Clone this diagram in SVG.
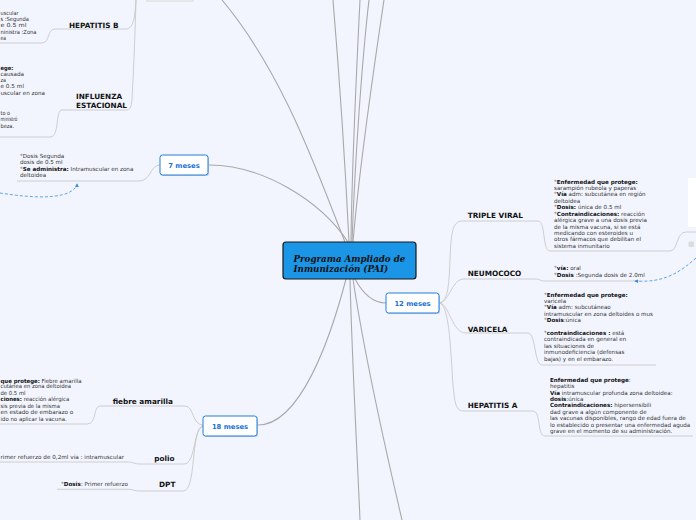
<svg xmlns="http://www.w3.org/2000/svg" width="696" height="520" viewBox="0 0 696 520">
<style>
.bg{fill:#f2f5fe}
.main{fill:none;stroke:#a9a9a9;stroke-width:1.1}
.sub{fill:none;stroke:#c4c4c4;stroke-width:0.8}
.dash{fill:none;stroke:#3b8de0;stroke-width:0.8;stroke-dasharray:3,2}
.month rect.box{fill:#fff;stroke:#1f7fe0;stroke-width:1}
.month rect.sh{fill:#c9cfdc}
.month text{font-family:"DejaVu Sans",Verdana,sans-serif;font-weight:bold;font-size:6.8px;fill:#1a72d8;text-anchor:middle}
.lbl{font-family:"DejaVu Sans",Verdana,sans-serif;font-weight:bold;font-size:7.3px;fill:#111}
.t{font-family:"DejaVu Sans",Verdana,sans-serif;font-size:5.6px;fill:#333}
.t tspan.b,.b{font-weight:bold;fill:#111}
.c{font-family:"DejaVu Serif","Liberation Serif",serif;font-weight:bold;font-style:italic;font-size:8.7px;fill:#111}
</style>
<defs>
<marker id="ah" viewBox="0 0 6 6" refX="5" refY="3" markerWidth="5" markerHeight="5" orient="auto">
<path d="M0,0 L6,3 L0,6 z" fill="#3b8de0"/>
</marker>
</defs>
<rect class="bg" x="0" y="0" width="696" height="520"/>

<g id="connectors">
<path class="main" d="M345,242 C320,180 285,75 222,0"/>
<path class="main" d="M349,242 C345,160 338,60 333,0"/>
<path class="main" d="M351,242 C352,160 357,60 360,0"/>
<path class="main" d="M352,242 C355,160 362,60 369,0"/>
<path class="main" d="M353,242 C360,160 375,60 384,0"/>
<path class="main" d="M348,242 C320,200 262,165 209,165"/>
<path class="main" d="M350,279 C352,360 357,450 360,520"/>
<path class="main" d="M353,279 C365,360 388,460 402,520"/>
<path class="main" d="M346,279 C330,340 300,425 258,425"/>
<path class="main" d="M355,279 C362,292 372,303 386,303"/>

<path class="sub" d="M136,0 C135,15 134,29 126,29 L55,29 C47,29 50,43 42,43 L0,43"/>
<path class="sub" d="M136,0 C135,40 133,80 132,100 C131,108 130,110 126,110 L62,110 C55,110 60,137 50,137 L0,137"/>
<path class="sub" d="M160,165 C150,165 151,181 139,181 L17,181"/>

<path class="sub" d="M440,303 C448,300 449,285 450,260 C451,235 452,221 462,221 L538,221 C546,221 542,251 550,251 L670,251 C678,251 676,232 686,232 L696,232"/>
<path class="sub" d="M440,303 C450,300 452,279 464,279 L536,279 C540,279 540,281 544,281 L640,281"/>
<path class="sub" d="M440,303 C450,306 452,333 466,333 L528,333 C536,333 534,365 542,365 L656,365"/>
<path class="sub" d="M440,303 C450,306 451,360 453,385 C455,405 456,411 464,411 L533,411 C541,411 537,436 545,436 L693,436"/>

<path class="sub" d="M203,425 C192,425 194,406 185,406 L100,406 C93,406 97,424 87,424 L0,424"/>
<path class="sub" d="M203,426 C193,428 196,464 184,464 L140,464 C134,464 133,462 128,462 L0,462"/>
<path class="sub" d="M203,426 C190,430 197,491 183,491 L140,491 C134,491 133,489.3 128,489.3 L57,489.3"/>

<path class="dash" d="M696,258 C680,272 665,283 635,281" marker-end="url(#ah)"/>
<path class="dash" d="M0,193 C20,196 50,200 68,193 C74,190 77,187 77,184" marker-end="url(#ah)"/>
</g>

<g id="partial-top">
<rect x="147" y="-20" width="46" height="21" fill="#f8f8f8" stroke="#cfcfcf" stroke-width="0.8"/>
</g>

<g id="note-right">
<rect x="688" y="178" width="10" height="49" fill="#fff"/>
<rect x="688.5" y="241.5" width="5.5" height="5.5" rx="1" fill="#dcdcdc"/>
</g>

<g id="central">
<rect x="283" y="242" width="133" height="37" rx="3" fill="#1b95e6" stroke="#1a1a1a" stroke-width="1.2"/>
<text class="c" x="293.5" y="261.8">Programa Ampliado de</text>
<text class="c" x="293.5" y="272.3">Inmunización (PAI)</text>
</g>

<g id="m7" class="month">
<rect class="sh" x="161" y="156" width="48" height="20" rx="2.5"/>
<rect class="box" x="160" y="155" width="48" height="20" rx="2.5"/>
<text x="184" y="167.5">7 meses</text>
</g>
<g id="m12" class="month">
<rect class="sh" x="387" y="294" width="53" height="20" rx="2.5"/>
<rect class="box" x="386" y="293" width="53" height="20" rx="2.5"/>
<text x="412.5" y="305.5">12 meses</text>
</g>
<g id="m18" class="month">
<rect class="sh" x="204" y="417" width="54" height="20" rx="2.5"/>
<rect class="box" x="203" y="416" width="54" height="20" rx="2.5"/>
<text x="230" y="428.5">18 meses</text>
</g>

<g id="hepb">
<text class="lbl" x="69" y="27.5">HEPATITIS B</text>
<text class="t" x="0.5" y="15" textLength="18" lengthAdjust="spacingAndGlyphs">uscular</text>
<text class="t" x="0.5" y="21" textLength="28.5" lengthAdjust="spacingAndGlyphs">s :Segunda</text>
<text class="t" x="0.5" y="27" textLength="26" lengthAdjust="spacingAndGlyphs">e 0.5 ml</text>
<text class="t" x="0.5" y="34" textLength="36" lengthAdjust="spacingAndGlyphs">ninistra :Zona</text>
<text class="t" x="0.5" y="40" textLength="5.5" lengthAdjust="spacingAndGlyphs">ea</text>
</g>

<g id="influenza">
<text class="lbl" x="76" y="99">INFLUENZA</text>
<text class="lbl" x="76" y="107.5">ESTACIONAL</text>
<text class="t b" x="0.5" y="69.5" textLength="12.8" lengthAdjust="spacingAndGlyphs">ege:</text>
<text class="t" x="0.5" y="75.5" textLength="23.5" lengthAdjust="spacingAndGlyphs">causada</text>
<text class="t" x="0.5" y="81.8" textLength="5.5" lengthAdjust="spacingAndGlyphs">za</text>
<text class="t" x="0.5" y="88.3" textLength="23.5" lengthAdjust="spacingAndGlyphs">e 0.5 ml</text>
<text class="t" x="0.5" y="95" textLength="44.5" lengthAdjust="spacingAndGlyphs">uscular en zona</text>
<text class="t" x="0.5" y="115" textLength="9.5" lengthAdjust="spacingAndGlyphs">to o</text>
<text class="t" x="0.5" y="121" textLength="16.8" lengthAdjust="spacingAndGlyphs">ministró</text>
<text class="t" x="0.5" y="128" textLength="13.5" lengthAdjust="spacingAndGlyphs">beza.</text>
</g>

<g id="m7-info">
<text class="t" x="20" y="158">°Dosis Segunda</text>
<text class="t" x="20" y="164">dosis de 0.5 ml</text>
<text class="t" x="20" y="170.6">°<tspan class="b">Se administra:</tspan> Intramuscular en zona</text>
<text class="t" x="20" y="176.6">deltoidea</text>
</g>

<g id="triple">
<text class="lbl" x="467.7" y="218.3">TRIPLE VIRAL</text>
<text class="t" x="554" y="183.5">°<tspan class="b">Enfermedad que protege:</tspan></text>
<text class="t" x="554" y="189.9">sarampión rubeola y paperas</text>
<text class="t" x="554" y="196.4">°<tspan class="b">Vía</tspan> adm: subcutánea en región</text>
<text class="t" x="554" y="202.8">deltoidea</text>
<text class="t" x="554" y="209.2">°<tspan class="b">Dosis:</tspan> única de 0.5 ml</text>
<text class="t" x="554" y="215.7">°<tspan class="b">Contraindicaciones:</tspan> reacción</text>
<text class="t" x="554" y="222.1">alérgica grave a una dosis previa</text>
<text class="t" x="554" y="228.5">de la misma vacuna, si se está</text>
<text class="t" x="554" y="235">medicando con esteroides u</text>
<text class="t" x="554" y="241.4">otros fármacos que debilitan el</text>
<text class="t" x="554" y="247.8">sistema inmunitario</text>
</g>

<g id="neumococo">
<text class="lbl" x="467.7" y="276">NEUMOCOCO</text>
<text class="t" x="554" y="270.2">°<tspan class="b">vía:</tspan> oral</text>
<text class="t" x="554" y="276.8">°<tspan class="b">Dosis</tspan> :Segunda dosis de 2.0ml</text>
</g>

<g id="varicela">
<text class="lbl" x="467.7" y="332">VARICELA</text>
<text class="t" x="544" y="296.8">°<tspan class="b">Enfermedad que protege:</tspan></text>
<text class="t" x="544" y="303">varicela</text>
<text class="t" x="544" y="309.3">°<tspan class="b">Vía</tspan> adm: subcutáneao</text>
<text class="t" x="544" y="315.7">intramuscular en zona deltoides o mus</text>
<text class="t" x="544" y="322">°<tspan class="b">Dosis</tspan>:única</text>
<text class="t" x="544" y="335">°<tspan class="b">contraindicaciones :</tspan> está</text>
<text class="t" x="544" y="341.4">contraindicada en general en</text>
<text class="t" x="544" y="347.8">las situaciones de</text>
<text class="t" x="544" y="354.2">inmunodeficiencia (defensas</text>
<text class="t" x="544" y="360.6">bajas) y en el embarazo.</text>
</g>

<g id="hepa">
<text class="lbl" x="467.7" y="408.4">HEPATITIS A</text>
<text class="t" x="550" y="381.8"><tspan class="b">Enfermedad que protege</tspan>:</text>
<text class="t" x="550" y="388.2">hepatitis</text>
<text class="t" x="550" y="394.6"><tspan class="b">Vía</tspan> intramuscular profunda  zona deltoidea:</text>
<text class="t" x="550" y="401"><tspan class="b">dosis</tspan>:única</text>
<text class="t" x="550" y="407.4"><tspan class="b">Contraindicaciones:</tspan> hipersensibili</text>
<text class="t" x="550" y="413.8">dad grave a algún componente de</text>
<text class="t" x="550" y="420.2">las vacunas disponibles, rango de  edad fuera de</text>
<text class="t" x="550" y="426.6">lo establecido o presentar una enfermedad aguda</text>
<text class="t" x="550" y="433">grave en el momento de su administración.</text>
</g>

<g id="fiebre">
<text class="lbl" x="112.7" y="403.5">fiebre  amarilla</text>
<text class="t" x="0.5" y="382.5" textLength="81" lengthAdjust="spacingAndGlyphs"><tspan class="b">que protege:</tspan> Fiebre amarilla</text>
<text class="t" x="0.5" y="388.3" textLength="70.5" lengthAdjust="spacingAndGlyphs">cutánea en zona deltoidea</text>
<text class="t" x="0.5" y="395" textLength="25" lengthAdjust="spacingAndGlyphs">de  0.5 ml</text>
<text class="t" x="0.5" y="401" textLength="68.8" lengthAdjust="spacingAndGlyphs"><tspan class="b">ciones:</tspan> reacción alérgica</text>
<text class="t" x="0.5" y="407.7" textLength="59.5" lengthAdjust="spacingAndGlyphs">sis previa de la misma</text>
<text class="t" x="0.5" y="414.3" textLength="72.8" lengthAdjust="spacingAndGlyphs">en estado de embarazo o</text>
<text class="t" x="0.5" y="421" textLength="66.2" lengthAdjust="spacingAndGlyphs">ido no aplicar la vacuna.</text>
</g>

<g id="polio">
<text class="lbl" x="154.3" y="460.5" font-size="7.6">polio</text>
<text class="t" x="0.5" y="459.3" textLength="123.5" lengthAdjust="spacingAndGlyphs">rimer refuerzo de  0,2ml  vía : intramuscular</text>
</g>

<g id="dpt">
<text class="lbl" x="159" y="487">DPT</text>
<text class="t" x="61" y="486">°<tspan class="b">Dosis</tspan>: Primer refuerzo</text>
</g>
</svg>
